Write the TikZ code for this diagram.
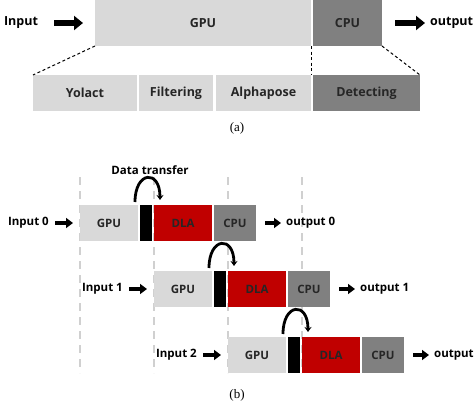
\documentclass[tikz,border=0pt]{standalone}
\usepackage{fontspec}
\setmainfont{Open Sans}
\newfontfamily\capfont{Liberation Serif}
\usetikzlibrary{arrows.meta}
\definecolor{lgray}{HTML}{D9D9D9}
\definecolor{dgray}{HTML}{808080}
\definecolor{dlared}{HTML}{C00000}
\definecolor{gline}{HTML}{D0D0D0}
\begin{document}
\begin{tikzpicture}[x=1pt,y=-1pt,
  blkA/.style={inner sep=0pt, outer sep=0pt, anchor=north west, minimum height=46pt, font=\fontsize{12.5}{13}\selectfont\bfseries, text=black!85},
  blkL/.style={inner sep=0pt, outer sep=0pt, anchor=north west, minimum height=36pt, font=\fontsize{12.5}{13}\selectfont\bfseries, text=black!85},
  blkB/.style={inner sep=0pt, outer sep=0pt, anchor=north west, minimum height=36pt, font=\fontsize{11.5}{12}\selectfont\bfseries, text=black!85},
  lblA/.style={inner sep=0pt, font=\fontsize{12.5}{13}\selectfont\bfseries},
  lblB/.style={inner sep=0pt, font=\fontsize{11.5}{12}\selectfont\bfseries},
  captext/.style={inner sep=0pt, font=\fontsize{13}{15}\capfont},
  fatarrow/.style={line width=6pt, -{Triangle[length=9pt,width=14pt]}},
  smallarrow/.style={line width=4pt, -{Triangle[length=7pt,width=10pt]}},
  looparrow/.style={line width=2.8pt, -{Stealth[length=5pt,width=7pt]}},
  zoomline/.style={line width=1pt, dash pattern=on 3pt off 2.5pt},
  guide/.style={gline, line width=1.5pt, dash pattern=on 8pt off 6pt},
]
\useasboundingbox (0,0) rectangle (474,415);

% ---------- (a) ----------
\node[blkA, fill=lgray, minimum width=216pt] (gpuA) at (95,0) {GPU};
\node[blkA, fill=dgray, minimum width=69pt] (cpuA) at (313,0) {CPU};
\node[blkL, fill=lgray, minimum width=104pt] (yolact) at (33,75) {Yolact};
\node[blkL, fill=lgray, minimum width=74pt] (filter) at (139,75) {Filtering};
\node[blkL, fill=lgray, minimum width=95pt] (alpha) at (216,75) {Alphapose};
\node[blkL, fill=dgray, minimum width=107pt] (detect) at (313,75) {Detecting};

\node[lblA] (inA) at (21,23) {Input};
\node[lblA, anchor=west] (outA) at (430,23) {output};
\draw[fatarrow] ([xshift=-41pt]gpuA.west) -- ([xshift=-12pt]gpuA.west);
\draw[fatarrow] ([xshift=13pt]cpuA.east) -- ([xshift=-5pt]outA.west);

\draw[zoomline] (gpuA.south west) -- (yolact.north west);
\draw[zoomline] (gpuA.south east) -- (alpha.north east);
\draw[zoomline] (cpuA.south east) -- (detect.north east);

\node[captext] (capA) at (237,128) {(a)};

% ---------- (b) ----------
\foreach \gx in {80,154,228,302}{
  \draw[guide] (\gx,177) -- (\gx,373);
}

\foreach \r/\x/\y in {0/80/205, 1/154/271, 2/228/337}{
  \node[blkB, fill=lgray, minimum width=58pt] (gpu\r) at (\x,\y) {GPU};
  \node[blkB, fill=black, minimum width=12pt] (bar\r) at (\x+60,\y) {};
  \node[blkB, fill=dlared, minimum width=58pt] (dla\r) at (\x+74,\y) {DLA};
  \node[blkB, fill=dgray, minimum width=42pt] (cpu\r) at (\x+134,\y) {CPU};
  \draw[smallarrow] ([xshift=-25pt]gpu\r.west) -- ([xshift=-7pt]gpu\r.west);
  \draw[smallarrow] ([xshift=9pt]cpu\r.east) -- ([xshift=25pt]cpu\r.east);
  \draw[looparrow] ([xshift=-5pt,yshift=3pt]bar\r.north west) .. controls +(0,-31) and +(0,-31) .. ([xshift=8pt,yshift=5pt]bar\r.north east);
}
\node[lblB, anchor=east] (in0) at ([xshift=-31pt]gpu0.west) {Input 0};
\node[lblB, anchor=east] (in1) at ([xshift=-31pt]gpu1.west) {Input 1};
\node[lblB, anchor=east] (in2) at ([xshift=-31pt]gpu2.west) {Input 2};
\node[lblB, anchor=west] (out0) at ([xshift=30pt]cpu0.east) {output 0};
\node[lblB, anchor=west] (out1) at ([xshift=30pt]cpu1.east) {output 1};
\node[lblB, anchor=west] (out2) at ([xshift=30pt]cpu2.east) {output};

\node[lblB] (dt) at (150,170) {Data transfer};
\node[captext] (capB) at (237,395) {(b)};
\end{tikzpicture}
\end{document}
